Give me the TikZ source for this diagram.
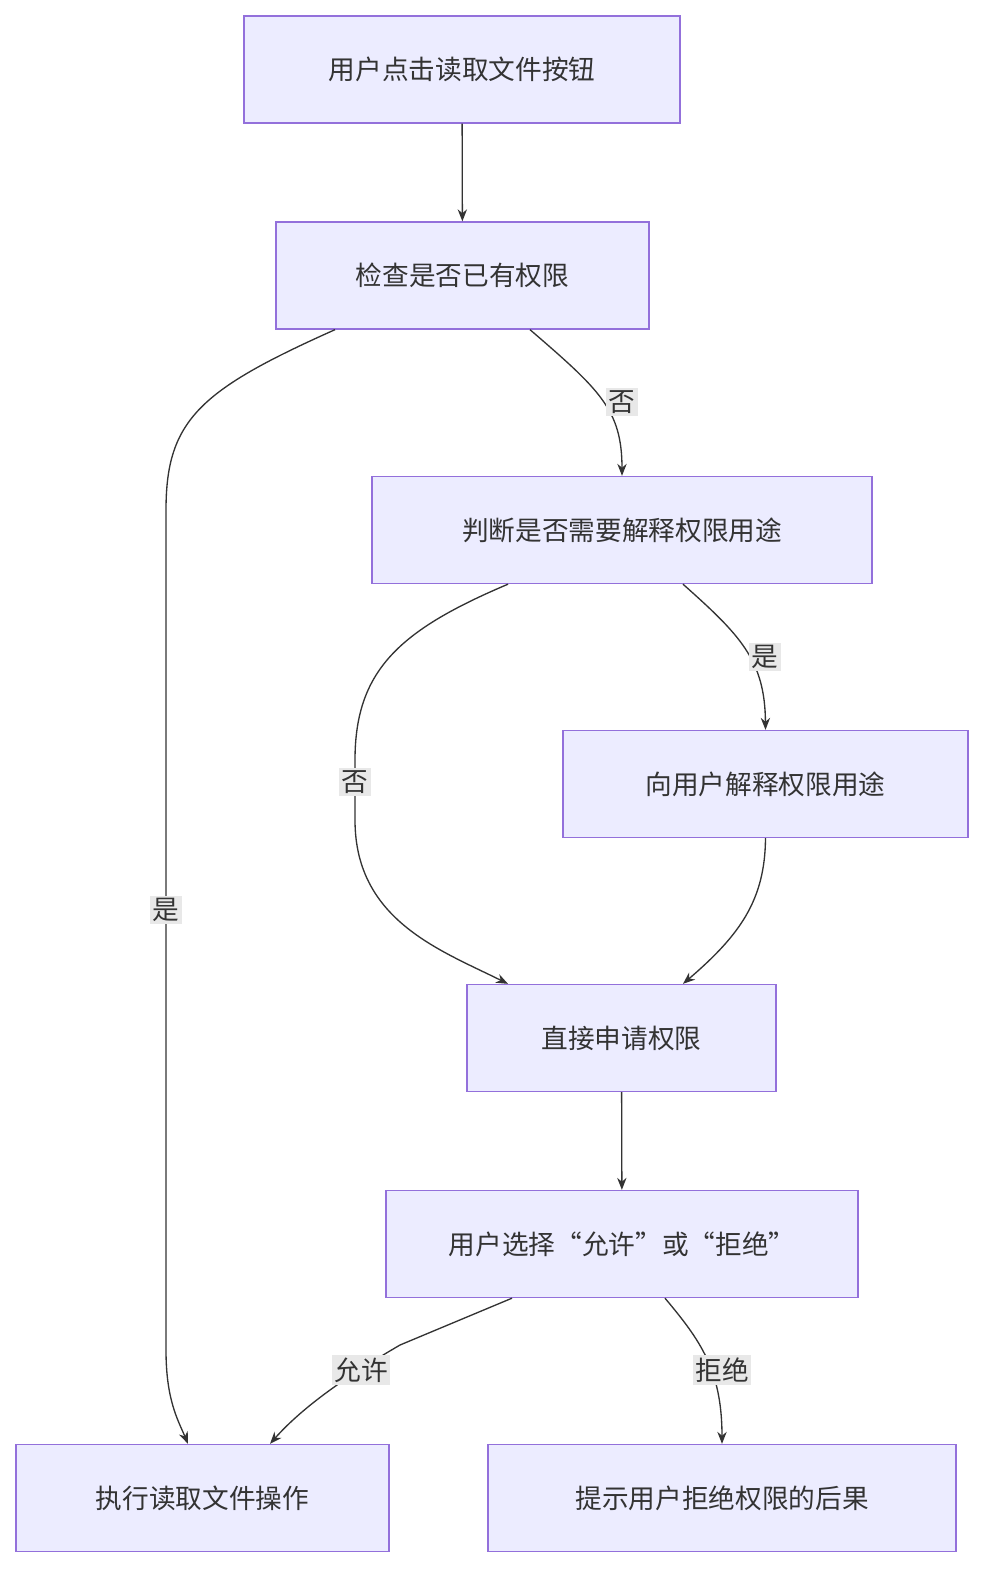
\documentclass[tikz,border=0pt]{standalone}
\usepackage{fontspec}
\setmainfont{Noto Sans CJK SC}
\usetikzlibrary{calc,arrows.meta}
\definecolor{boxfill}{HTML}{ECECFF}
\definecolor{boxline}{HTML}{9370DB}
\definecolor{edge}{HTML}{333333}
\definecolor{lblbg}{HTML}{E8E8E8}
\tikzset{
  box/.style={draw=boxline,fill=boxfill,line width=1pt,minimum height=107*0.75pt,inner sep=0pt,font=\fontsize{20}{24}\selectfont,text=edge},
  lbl/.style={fill=lblbg,inner sep=2pt,font=\fontsize{20}{24}\selectfont,text=edge},
  arr/.style={draw=edge,line width=1pt,-{Stealth[length=9pt,width=7pt]}}
}
\begin{document}
\begin{tikzpicture}[x=0.75pt,y=-0.75pt]
\useasboundingbox (0,0) rectangle (992,1580);
\node[box,minimum width=436*0.75pt] (A) at (462,69.5) {用户点击读取文件按钮};
\node[box,minimum width=373*0.75pt] (B) at (462.5,275.5) {检查是否已有权限};
\node[box,minimum width=500*0.75pt] (C) at (622,530) {判断是否需要解释权限用途};
\node[box,minimum width=405*0.75pt] (D) at (765.5,784) {向用户解释权限用途};
\node[box,minimum width=309*0.75pt] (E) at (621.5,1038) {直接申请权限};
\node[box,minimum width=472*0.75pt] (F) at (622,1244) {用户选择“允许”或“拒绝”};
\node[box,minimum width=373*0.75pt] (G) at (202.5,1498) {执行读取文件操作};
\node[box,minimum width=468*0.75pt] (H) at (722,1498) {提示用户拒绝权限的后果};

\draw[arr] (A) -- (B);
\draw[arr] ($(B.south)+(-127.5,0)$) .. controls (200,390) and (166,420) .. (166,510)
  -- (166,1350) .. controls (166,1400) and (178,1420) .. ($(G.north)+(-14.5,0)$);
\draw[arr] ($(B.south)+(67.5,0)$) .. controls (600,390) and (622,410) .. (C.north);
\draw[arr] ($(C.south)+(-114,0)$) .. controls (400,630) and (355,670) .. (355,760)
  -- (355,820) .. controls (355,920) and (440,950) .. ($(E.north)+(-113.5,0)$);
\draw[arr] ($(C.south)+(61,0)$) .. controls (740,635) and (765,660) .. (D.north);
\draw[arr] (D.south) .. controls (765,900) and (740,935) .. ($(E.north)+(61.5,0)$);
\draw[arr] (E) -- (F);
\draw[arr] ($(F.south)+(-110,0)$) -- (400,1345) .. controls (340,1380) and (300,1410) .. ($(G.north)+(67.5,0)$);
\draw[arr] ($(F.south)+(43,0)$) .. controls (700,1340) and (722,1370) .. (H.north);

\node[lbl] (l1) at (166,910) {是};
\node[lbl] (l2) at (622,402) {否};
\node[lbl] (l3) at (355,782) {否};
\node[lbl] (l4) at (765,657) {是};
\node[lbl] (l5) at (361,1370) {允许};
\node[lbl] (l6) at (722,1370) {拒绝};
\end{tikzpicture}
\end{document}
